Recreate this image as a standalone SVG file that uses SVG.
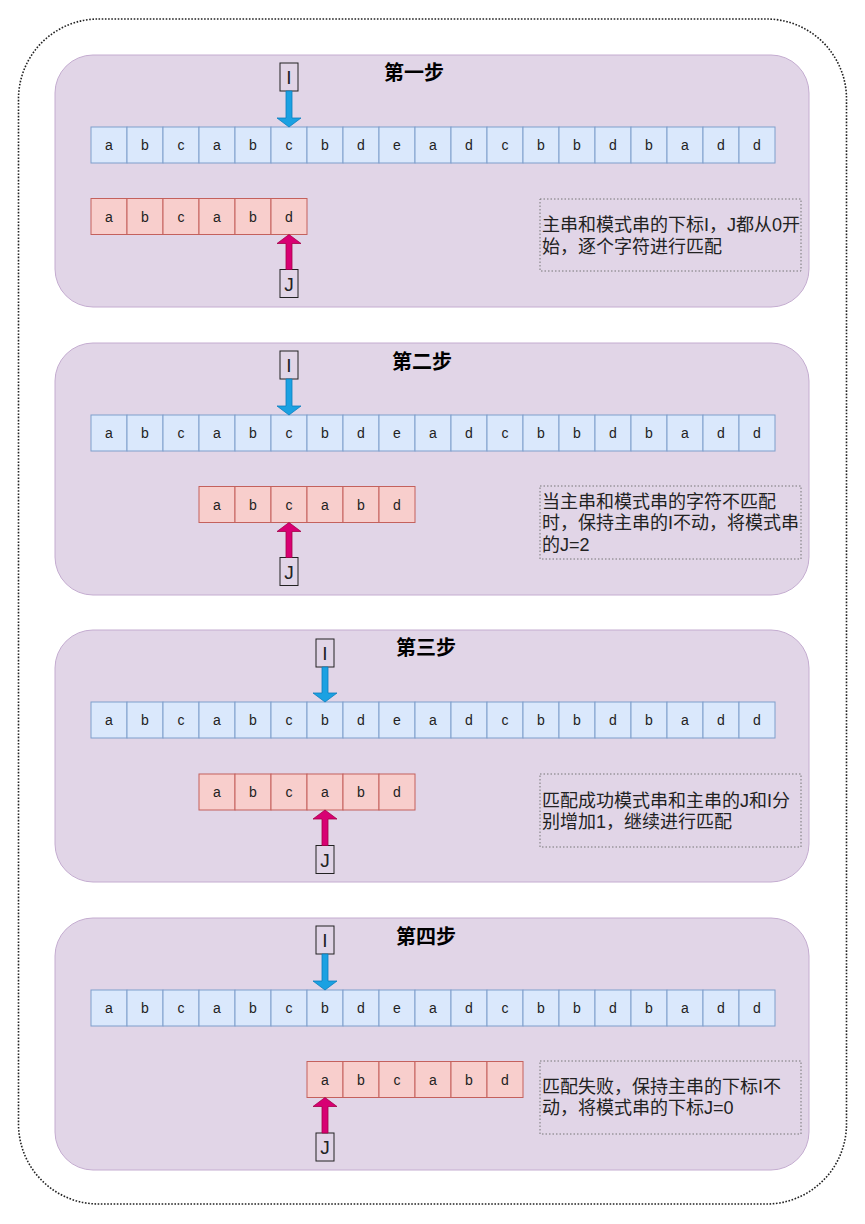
<svg xmlns="http://www.w3.org/2000/svg" width="865" height="1224" viewBox="0 0 865 1224">
<style>
text{font-family:"Liberation Sans","Noto Sans CJK SC",sans-serif;fill:#000;}
.outer{fill:#fff;stroke:#222;stroke-width:1.6;stroke-dasharray:1.6 1.6;}
.panel{fill:#e1d5e7;stroke:#c4acd0;stroke-width:1;}
.m rect{fill:#dae8fc;stroke:#7f9fcc;stroke-width:1;}
.p rect{fill:#f8cecc;stroke:#c4615d;stroke-width:1;}
.m text,.p text{font-size:14px;text-anchor:middle;dominant-baseline:central;fill:#222;}
.lbl rect{fill:none;stroke:#222;stroke-width:1;}
.lbl text{font-size:19px;text-anchor:middle;dominant-baseline:central;fill:#222;}
.title{font-size:20px;font-weight:bold;text-anchor:middle;dominant-baseline:central;}
.note rect{fill:none;stroke:#777;stroke-width:1;stroke-dasharray:1.5 2;}
.note text{font-size:18px;dominant-baseline:central;fill:#222;}
.ai{fill:#1ba1e2;stroke:#0a7fbf;stroke-width:0.8;}
.aj{fill:#d80073;stroke:#a50048;stroke-width:0.8;}
</style>
<rect class="outer" x="18.5" y="19" width="828" height="1185" rx="80" ry="80"/>

<!-- ===== Panel 1 ===== -->
<g id="panel1">
<rect class="panel" x="55" y="55" width="754" height="252" rx="38" ry="38"/>
<text class="title" x="414" y="73">第一步</text>
</g>
<g id="p1-main" class="m">
<g id="p1m0"><rect x="91" y="127" width="36" height="36"/><text x="109" y="145">a</text></g>
<g id="p1m1"><rect x="127" y="127" width="36" height="36"/><text x="145" y="145">b</text></g>
<g id="p1m2"><rect x="163" y="127" width="36" height="36"/><text x="181" y="145">c</text></g>
<g id="p1m3"><rect x="199" y="127" width="36" height="36"/><text x="217" y="145">a</text></g>
<g id="p1m4"><rect x="235" y="127" width="36" height="36"/><text x="253" y="145">b</text></g>
<g id="p1m5"><rect x="271" y="127" width="36" height="36"/><text x="289" y="145">c</text></g>
<g id="p1m6"><rect x="307" y="127" width="36" height="36"/><text x="325" y="145">b</text></g>
<g id="p1m7"><rect x="343" y="127" width="36" height="36"/><text x="361" y="145">d</text></g>
<g id="p1m8"><rect x="379" y="127" width="36" height="36"/><text x="397" y="145">e</text></g>
<g id="p1m9"><rect x="415" y="127" width="36" height="36"/><text x="433" y="145">a</text></g>
<g id="p1m10"><rect x="451" y="127" width="36" height="36"/><text x="469" y="145">d</text></g>
<g id="p1m11"><rect x="487" y="127" width="36" height="36"/><text x="505" y="145">c</text></g>
<g id="p1m12"><rect x="523" y="127" width="36" height="36"/><text x="541" y="145">b</text></g>
<g id="p1m13"><rect x="559" y="127" width="36" height="36"/><text x="577" y="145">b</text></g>
<g id="p1m14"><rect x="595" y="127" width="36" height="36"/><text x="613" y="145">d</text></g>
<g id="p1m15"><rect x="631" y="127" width="36" height="36"/><text x="649" y="145">b</text></g>
<g id="p1m16"><rect x="667" y="127" width="36" height="36"/><text x="685" y="145">a</text></g>
<g id="p1m17"><rect x="703" y="127" width="36" height="36"/><text x="721" y="145">d</text></g>
<g id="p1m18"><rect x="739" y="127" width="36" height="36"/><text x="757" y="145">d</text></g>
</g>
<g id="p1-pat" class="p">
<g id="p1p0"><rect x="91" y="198.5" width="36" height="36"/><text x="109" y="216.5">a</text></g>
<g id="p1p1"><rect x="127" y="198.5" width="36" height="36"/><text x="145" y="216.5">b</text></g>
<g id="p1p2"><rect x="163" y="198.5" width="36" height="36"/><text x="181" y="216.5">c</text></g>
<g id="p1p3"><rect x="199" y="198.5" width="36" height="36"/><text x="217" y="216.5">a</text></g>
<g id="p1p4"><rect x="235" y="198.5" width="36" height="36"/><text x="253" y="216.5">b</text></g>
<g id="p1p5"><rect x="271" y="198.5" width="36" height="36"/><text x="289" y="216.5">d</text></g>
</g>
<g id="p1-I" class="lbl"><rect x="280" y="63" width="18" height="28"/><text x="289" y="77.5">I</text></g>
<g id="p1-J" class="lbl"><rect x="280" y="269.5" width="18" height="28"/><text x="289" y="284">J</text></g>
<g id="p1-note" class="note"><rect x="540" y="199" width="261" height="72"/>
<text x="542" y="225">主串和模式串的下标I，J都从0开</text>
<text x="542" y="247">始，逐个字符进行匹配</text></g>

<!-- ===== Panel 2 ===== -->
<g id="panel2">
<rect class="panel" x="55" y="343" width="754" height="252" rx="38" ry="38"/>
<text class="title" x="422" y="362">第二步</text>
</g>
<g id="p2-main" class="m">
<g id="p2m0"><rect x="91" y="415" width="36" height="36"/><text x="109" y="433">a</text></g>
<g id="p2m1"><rect x="127" y="415" width="36" height="36"/><text x="145" y="433">b</text></g>
<g id="p2m2"><rect x="163" y="415" width="36" height="36"/><text x="181" y="433">c</text></g>
<g id="p2m3"><rect x="199" y="415" width="36" height="36"/><text x="217" y="433">a</text></g>
<g id="p2m4"><rect x="235" y="415" width="36" height="36"/><text x="253" y="433">b</text></g>
<g id="p2m5"><rect x="271" y="415" width="36" height="36"/><text x="289" y="433">c</text></g>
<g id="p2m6"><rect x="307" y="415" width="36" height="36"/><text x="325" y="433">b</text></g>
<g id="p2m7"><rect x="343" y="415" width="36" height="36"/><text x="361" y="433">d</text></g>
<g id="p2m8"><rect x="379" y="415" width="36" height="36"/><text x="397" y="433">e</text></g>
<g id="p2m9"><rect x="415" y="415" width="36" height="36"/><text x="433" y="433">a</text></g>
<g id="p2m10"><rect x="451" y="415" width="36" height="36"/><text x="469" y="433">d</text></g>
<g id="p2m11"><rect x="487" y="415" width="36" height="36"/><text x="505" y="433">c</text></g>
<g id="p2m12"><rect x="523" y="415" width="36" height="36"/><text x="541" y="433">b</text></g>
<g id="p2m13"><rect x="559" y="415" width="36" height="36"/><text x="577" y="433">b</text></g>
<g id="p2m14"><rect x="595" y="415" width="36" height="36"/><text x="613" y="433">d</text></g>
<g id="p2m15"><rect x="631" y="415" width="36" height="36"/><text x="649" y="433">b</text></g>
<g id="p2m16"><rect x="667" y="415" width="36" height="36"/><text x="685" y="433">a</text></g>
<g id="p2m17"><rect x="703" y="415" width="36" height="36"/><text x="721" y="433">d</text></g>
<g id="p2m18"><rect x="739" y="415" width="36" height="36"/><text x="757" y="433">d</text></g>
</g>
<g id="p2-pat" class="p">
<g id="p2p0"><rect x="199" y="486.5" width="36" height="36"/><text x="217" y="504.5">a</text></g>
<g id="p2p1"><rect x="235" y="486.5" width="36" height="36"/><text x="253" y="504.5">b</text></g>
<g id="p2p2"><rect x="271" y="486.5" width="36" height="36"/><text x="289" y="504.5">c</text></g>
<g id="p2p3"><rect x="307" y="486.5" width="36" height="36"/><text x="325" y="504.5">a</text></g>
<g id="p2p4"><rect x="343" y="486.5" width="36" height="36"/><text x="361" y="504.5">b</text></g>
<g id="p2p5"><rect x="379" y="486.5" width="36" height="36"/><text x="397" y="504.5">d</text></g>
</g>
<g id="p2-I" class="lbl"><rect x="280" y="351" width="18" height="28"/><text x="289" y="365.5">I</text></g>
<g id="p2-J" class="lbl"><rect x="280" y="557.5" width="18" height="28"/><text x="289" y="572">J</text></g>
<g id="p2-note" class="note"><rect x="540" y="486" width="261" height="73"/>
<text x="542" y="501.5">当主串和模式串的字符不匹配</text>
<text x="542" y="523">时，保持主串的I不动，将模式串</text>
<text x="542" y="544.5">的J=2</text></g>

<!-- ===== Panel 3 ===== -->
<g id="panel3">
<rect class="panel" x="55" y="630" width="754" height="252" rx="38" ry="38"/>
<text class="title" x="426" y="648">第三步</text>
</g>
<g id="p3-main" class="m">
<g id="p3m0"><rect x="91" y="702" width="36" height="36"/><text x="109" y="720">a</text></g>
<g id="p3m1"><rect x="127" y="702" width="36" height="36"/><text x="145" y="720">b</text></g>
<g id="p3m2"><rect x="163" y="702" width="36" height="36"/><text x="181" y="720">c</text></g>
<g id="p3m3"><rect x="199" y="702" width="36" height="36"/><text x="217" y="720">a</text></g>
<g id="p3m4"><rect x="235" y="702" width="36" height="36"/><text x="253" y="720">b</text></g>
<g id="p3m5"><rect x="271" y="702" width="36" height="36"/><text x="289" y="720">c</text></g>
<g id="p3m6"><rect x="307" y="702" width="36" height="36"/><text x="325" y="720">b</text></g>
<g id="p3m7"><rect x="343" y="702" width="36" height="36"/><text x="361" y="720">d</text></g>
<g id="p3m8"><rect x="379" y="702" width="36" height="36"/><text x="397" y="720">e</text></g>
<g id="p3m9"><rect x="415" y="702" width="36" height="36"/><text x="433" y="720">a</text></g>
<g id="p3m10"><rect x="451" y="702" width="36" height="36"/><text x="469" y="720">d</text></g>
<g id="p3m11"><rect x="487" y="702" width="36" height="36"/><text x="505" y="720">c</text></g>
<g id="p3m12"><rect x="523" y="702" width="36" height="36"/><text x="541" y="720">b</text></g>
<g id="p3m13"><rect x="559" y="702" width="36" height="36"/><text x="577" y="720">b</text></g>
<g id="p3m14"><rect x="595" y="702" width="36" height="36"/><text x="613" y="720">d</text></g>
<g id="p3m15"><rect x="631" y="702" width="36" height="36"/><text x="649" y="720">b</text></g>
<g id="p3m16"><rect x="667" y="702" width="36" height="36"/><text x="685" y="720">a</text></g>
<g id="p3m17"><rect x="703" y="702" width="36" height="36"/><text x="721" y="720">d</text></g>
<g id="p3m18"><rect x="739" y="702" width="36" height="36"/><text x="757" y="720">d</text></g>
</g>
<g id="p3-pat" class="p">
<g id="p3p0"><rect x="199" y="774" width="36" height="36"/><text x="217" y="792">a</text></g>
<g id="p3p1"><rect x="235" y="774" width="36" height="36"/><text x="253" y="792">b</text></g>
<g id="p3p2"><rect x="271" y="774" width="36" height="36"/><text x="289" y="792">c</text></g>
<g id="p3p3"><rect x="307" y="774" width="36" height="36"/><text x="325" y="792">a</text></g>
<g id="p3p4"><rect x="343" y="774" width="36" height="36"/><text x="361" y="792">b</text></g>
<g id="p3p5"><rect x="379" y="774" width="36" height="36"/><text x="397" y="792">d</text></g>
</g>
<g id="p3-I" class="lbl"><rect x="316" y="639" width="18" height="28"/><text x="325" y="653.5">I</text></g>
<g id="p3-J" class="lbl"><rect x="316" y="845.5" width="18" height="28"/><text x="325" y="860">J</text></g>
<g id="p3-note" class="note"><rect x="540" y="774" width="261" height="73"/>
<text x="542" y="801">匹配成功模式串和主串的J和I分</text>
<text x="542" y="822">别增加1，继续进行匹配</text></g>

<!-- ===== Panel 4 ===== -->
<g id="panel4">
<rect class="panel" x="55" y="918" width="754" height="252" rx="38" ry="38"/>
<text class="title" x="426" y="937">第四步</text>
</g>
<g id="p4-main" class="m">
<g id="p4m0"><rect x="91" y="990" width="36" height="36"/><text x="109" y="1008">a</text></g>
<g id="p4m1"><rect x="127" y="990" width="36" height="36"/><text x="145" y="1008">b</text></g>
<g id="p4m2"><rect x="163" y="990" width="36" height="36"/><text x="181" y="1008">c</text></g>
<g id="p4m3"><rect x="199" y="990" width="36" height="36"/><text x="217" y="1008">a</text></g>
<g id="p4m4"><rect x="235" y="990" width="36" height="36"/><text x="253" y="1008">b</text></g>
<g id="p4m5"><rect x="271" y="990" width="36" height="36"/><text x="289" y="1008">c</text></g>
<g id="p4m6"><rect x="307" y="990" width="36" height="36"/><text x="325" y="1008">b</text></g>
<g id="p4m7"><rect x="343" y="990" width="36" height="36"/><text x="361" y="1008">d</text></g>
<g id="p4m8"><rect x="379" y="990" width="36" height="36"/><text x="397" y="1008">e</text></g>
<g id="p4m9"><rect x="415" y="990" width="36" height="36"/><text x="433" y="1008">a</text></g>
<g id="p4m10"><rect x="451" y="990" width="36" height="36"/><text x="469" y="1008">d</text></g>
<g id="p4m11"><rect x="487" y="990" width="36" height="36"/><text x="505" y="1008">c</text></g>
<g id="p4m12"><rect x="523" y="990" width="36" height="36"/><text x="541" y="1008">b</text></g>
<g id="p4m13"><rect x="559" y="990" width="36" height="36"/><text x="577" y="1008">b</text></g>
<g id="p4m14"><rect x="595" y="990" width="36" height="36"/><text x="613" y="1008">d</text></g>
<g id="p4m15"><rect x="631" y="990" width="36" height="36"/><text x="649" y="1008">b</text></g>
<g id="p4m16"><rect x="667" y="990" width="36" height="36"/><text x="685" y="1008">a</text></g>
<g id="p4m17"><rect x="703" y="990" width="36" height="36"/><text x="721" y="1008">d</text></g>
<g id="p4m18"><rect x="739" y="990" width="36" height="36"/><text x="757" y="1008">d</text></g>
</g>
<g id="p4-pat" class="p">
<g id="p4p0"><rect x="307" y="1061.5" width="36" height="36"/><text x="325" y="1079.5">a</text></g>
<g id="p4p1"><rect x="343" y="1061.5" width="36" height="36"/><text x="361" y="1079.5">b</text></g>
<g id="p4p2"><rect x="379" y="1061.5" width="36" height="36"/><text x="397" y="1079.5">c</text></g>
<g id="p4p3"><rect x="415" y="1061.5" width="36" height="36"/><text x="433" y="1079.5">a</text></g>
<g id="p4p4"><rect x="451" y="1061.5" width="36" height="36"/><text x="469" y="1079.5">b</text></g>
<g id="p4p5"><rect x="487" y="1061.5" width="36" height="36"/><text x="505" y="1079.5">d</text></g>
</g>
<g id="p4-I" class="lbl"><rect x="316" y="926" width="18" height="28"/><text x="325" y="940.5">I</text></g>
<g id="p4-J" class="lbl"><rect x="316" y="1133" width="18" height="28"/><text x="325" y="1147.5">J</text></g>
<g id="p4-note" class="note"><rect x="540" y="1061" width="261" height="73"/>
<text x="542" y="1087">匹配失败，保持主串的下标I不</text>
<text x="542" y="1108">动，将模式串的下标J=0</text></g>

<!-- ===== Connectors ===== -->
<g id="connectors">
<path class="ai" d="M286 91 L292 91 L292 118 L301 118 L289 127 L277 118 L286 118 Z"/>
<path class="aj" d="M286 269.5 L292 269.5 L292 243.5 L301 243.5 L289 234.5 L277 243.5 L286 243.5 Z"/>
<path class="ai" d="M286 379 L292 379 L292 406 L301 406 L289 415 L277 406 L286 406 Z"/>
<path class="aj" d="M286 557.5 L292 557.5 L292 531.5 L301 531.5 L289 522.5 L277 531.5 L286 531.5 Z"/>
<path class="ai" d="M322 667 L328 667 L328 693 L337 693 L325 702 L313 693 L322 693 Z"/>
<path class="aj" d="M322 845.5 L328 845.5 L328 819 L337 819 L325 810 L313 819 L322 819 Z"/>
<path class="ai" d="M322 954 L328 954 L328 981 L337 981 L325 990 L313 981 L322 981 Z"/>
<path class="aj" d="M322 1133 L328 1133 L328 1106.5 L337 1106.5 L325 1097.5 L313 1106.5 L322 1106.5 Z"/>
</g>
</svg>
